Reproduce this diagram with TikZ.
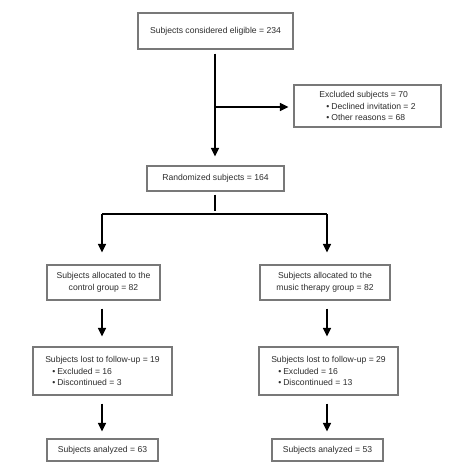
\documentclass[tikz,border=0pt]{standalone}
\usepackage{fontspec}
\setmainfont{Liberation Sans}
\usetikzlibrary{arrows.meta}
\definecolor{boxline}{RGB}{120,120,120}
\definecolor{txt}{RGB}{45,45,45}
\begin{document}
\begin{tikzpicture}[x=1pt,y=-1pt,
  box/.style={draw=boxline,line width=1.1pt,fill=white,rectangle,inner sep=0pt,
    text=txt,font=\fontsize{8.6}{11.6}\selectfont,align=center},
  lbox/.style={box,align=left},
  conn/.style={line width=1.4pt,draw=black},
  arr/.style={conn,-{Triangle[length=8.5pt,width=8pt]}}]
\useasboundingbox[fill=white] (0,0) rectangle (474,474);
\newcommand{\bul}{\hspace*{7pt}•\hspace*{2pt}}
% nodes
\node[box,minimum width=155pt,minimum height=36pt] (elig) at (215.5,31) {Subjects considered eligible = 234};
\node[lbox,minimum width=147pt,minimum height=42pt] (excl) at (367.5,106) {Excluded subjects = 70\\\bul Declined invitation = 2\\\bul Other reasons = 68};
\node[box,minimum width=137pt,minimum height=25pt] (rand) at (215.5,178.5) {Randomized subjects = 164};
\node[box,minimum width=113pt,minimum height=35pt] (allocL) at (103.5,282.5) {Subjects allocated to the\\control group = 82};
\node[box,minimum width=130pt,minimum height=35pt] (allocR) at (325,282.5) {Subjects allocated to the\\music therapy group = 82};
\node[lbox,minimum width=139pt,minimum height=48pt] (lostL) at (102.5,371) {Subjects lost to follow-up = 19\\\bul Excluded = 16\\\bul Discontinued = 3};
\node[lbox,minimum width=139pt,minimum height=48pt] (lostR) at (328.5,371) {Subjects lost to follow-up = 29\\\bul Excluded = 16\\\bul Discontinued = 13};
\node[box,minimum width=111pt,minimum height=22pt] (anaL) at (102.5,450) {Subjects analyzed = 63};
\node[box,minimum width=111pt,minimum height=22pt] (anaR) at (327.5,450) {Subjects analyzed = 53};
% helper coordinates
\coordinate (split) at (215,107);
\coordinate (stub) at (215,211);
\coordinate (hl) at (102,214);
\coordinate (hr) at (327,214);
% connectors
\draw[arr,shorten <=4pt,shorten >=9pt] (elig.south -| split) -- (rand.north -| split);
\draw[arr,shorten >=5pt] (split) -- (excl.west |- split);
\draw[conn,shorten <=3pt] (rand.south -| stub) -- (stub);
\draw[conn] (hl) -- (hr);
\draw[arr,shorten >=12pt] (hl) -- (allocL.north -| hl);
\draw[arr,shorten >=12pt] (hr) -- (allocR.north -| hr);
\draw[arr,shorten <=8pt,shorten >=10pt] (allocL.south -| hl) -- (lostL.north -| hl);
\draw[arr,shorten <=8pt,shorten >=10pt] (allocR.south -| hr) -- (lostR.north -| hr);
\draw[arr,shorten <=8pt,shorten >=7pt] (lostL.south -| hl) -- (anaL.north -| hl);
\draw[arr,shorten <=8pt,shorten >=7pt] (lostR.south -| hr) -- (anaR.north -| hr);
\end{tikzpicture}
\end{document}
